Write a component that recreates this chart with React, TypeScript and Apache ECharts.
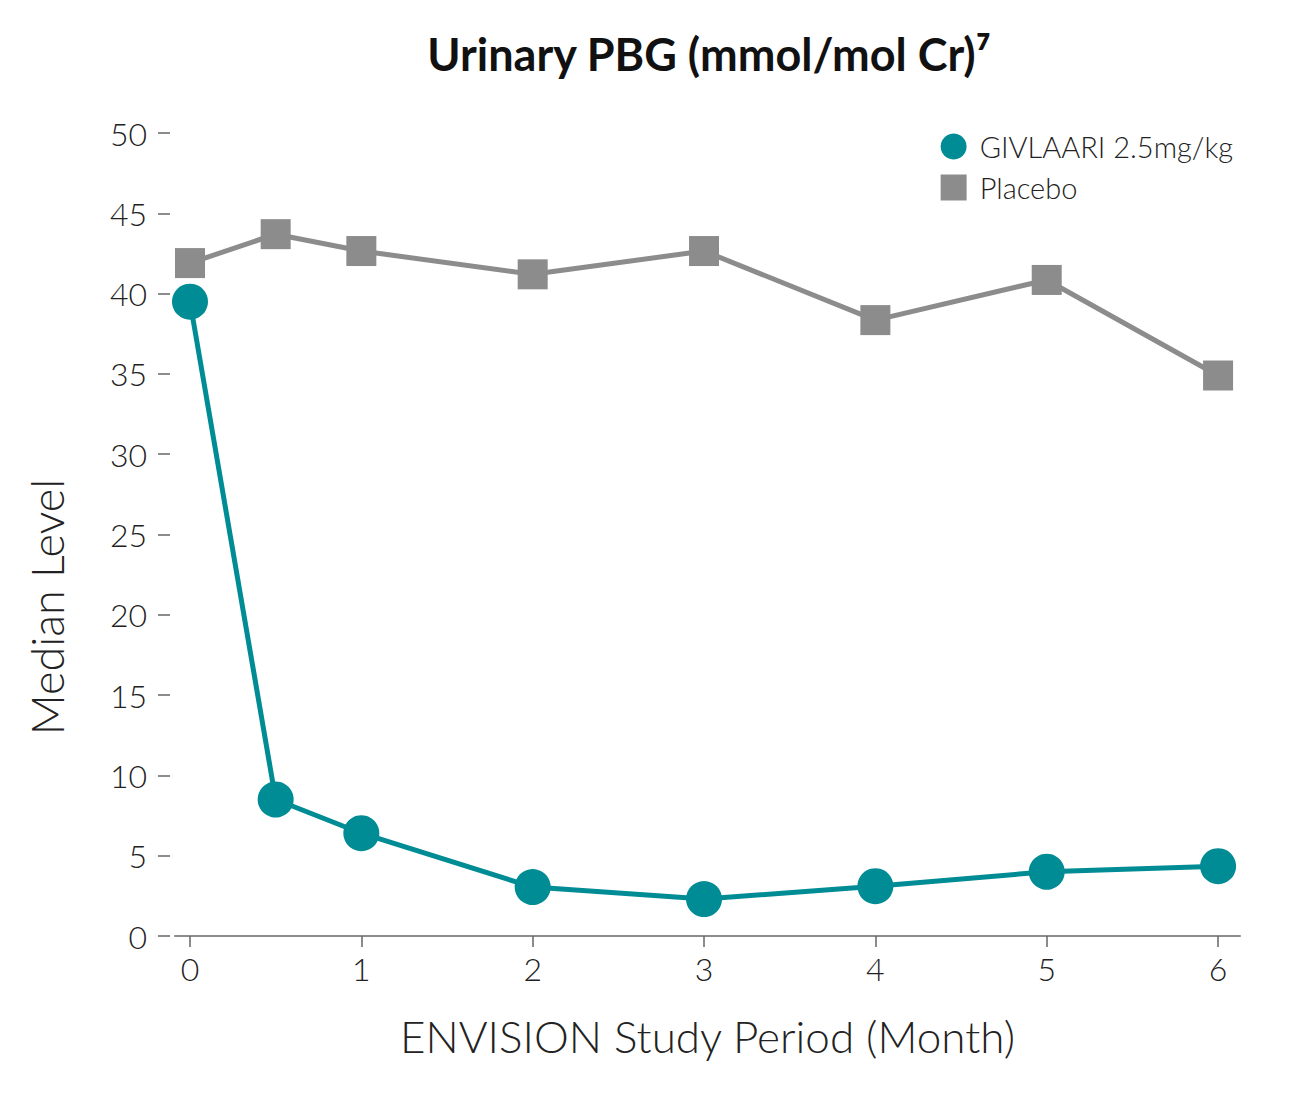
import React, { useEffect, useRef } from "react";
import * as echarts from "echarts";

const months = [0, 0.5, 1, 2, 3, 4, 5, 6];
const givlaari = [39.5, 8.5, 6.4, 3.05, 2.3, 3.1, 4.0, 4.35];
const placebo = [41.9, 43.7, 42.65, 41.2, 42.65, 38.35, 40.85, 34.9];
const xTicks = [0, 1, 2, 3, 4, 5, 6];
const seriesNames = ["GIVLAARI 2.5mg/kg", "Placebo"];

const FONT = "Lato";

export default function App() {
  const ref = useRef<HTMLDivElement>(null);
  useEffect(() => {
    document.body.style.margin = "0";
    const chart = echarts.init(ref.current!, null, { renderer: "svg" });
    chart.setOption({
      animation: false,
      backgroundColor: "#ffffff",
      title: {
        text: "Urinary PBG (mmol/mol Cr)\u2077",
        left: 704,
        top: 26,
        textAlign: "center",
        textStyle: { fontFamily: FONT, fontWeight: "bold", fontSize: 45, color: "#111" },
      },
      legend: {
        right: 64,
        top: 127,
        orient: "vertical",
        itemGap: 12,
        itemWidth: 26,
        itemHeight: 26,
        textStyle: { fontFamily: FONT, fontWeight: 300, fontSize: 29, color: "#222", padding: [0, 0, 0, 8] },
        data: [
          { name: seriesNames[0], icon: "circle" },
          { name: seriesNames[1], icon: "rect" },
        ],
      },
      graphic: [
        {
          type: "text",
          x: 47,
          y: 607,
          rotation: Math.PI / 2,
          style: {
            text: "Median Level",
            fontFamily: FONT,
            fontWeight: 300,
            fontSize: 45,
            fill: "#222",
            align: "center",
            verticalAlign: "middle",
          },
        },
      ],
      grid: { left: 175, right: 62, top: 133, bottom: 175 },
      xAxis: {
        type: "value",
        min: -0.0875,
        max: 6.128,
        name: "ENVISION Study Period (Month)",
        nameLocation: "middle",
        nameGap: 78,
        nameTextStyle: { fontFamily: FONT, fontWeight: 300, fontSize: 44, color: "#222" },
        splitLine: { show: false },
        axisLine: { show: true, onZero: false, lineStyle: { color: "#8c8c8c", width: 2 } },
        axisTick: { show: true, customValues: xTicks, length: 11, lineStyle: { color: "#666", width: 1.5 } },
        axisLabel: {
          customValues: xTicks,
          margin: 16,
          fontFamily: FONT,
          fontWeight: 300,
          fontSize: 32,
          color: "#222",
        },
      },
      yAxis: {
        type: "value",
        min: 0,
        max: 50,
        interval: 5,
        offset: 5,
        splitLine: { show: false },
        axisLine: { show: false, onZero: false },
        axisTick: { show: true, length: 12, lineStyle: { color: "#666", width: 1.5 } },
        axisLabel: { margin: 23, fontFamily: FONT, fontWeight: 300, fontSize: 32, color: "#222" },
      },
      series: [
        {
          name: seriesNames[1],
          type: "line",
          data: months.map((m, i) => [m, placebo[i]]),
          symbol: "rect",
          symbolSize: 30,
          itemStyle: { color: "#8c8c8c" },
          lineStyle: { color: "#8c8c8c", width: 5 },
          z: 2,
        },
        {
          name: seriesNames[0],
          type: "line",
          data: months.map((m, i) => [m, givlaari[i]]),
          symbol: "circle",
          symbolSize: 36,
          itemStyle: { color: "#008c95" },
          lineStyle: { color: "#008c95", width: 5 },
          z: 3,
        },
      ],
    });
    return () => chart.dispose();
  }, []);
  return <div ref={ref} style={{ width: 1302, height: 1111 }} />;
}
